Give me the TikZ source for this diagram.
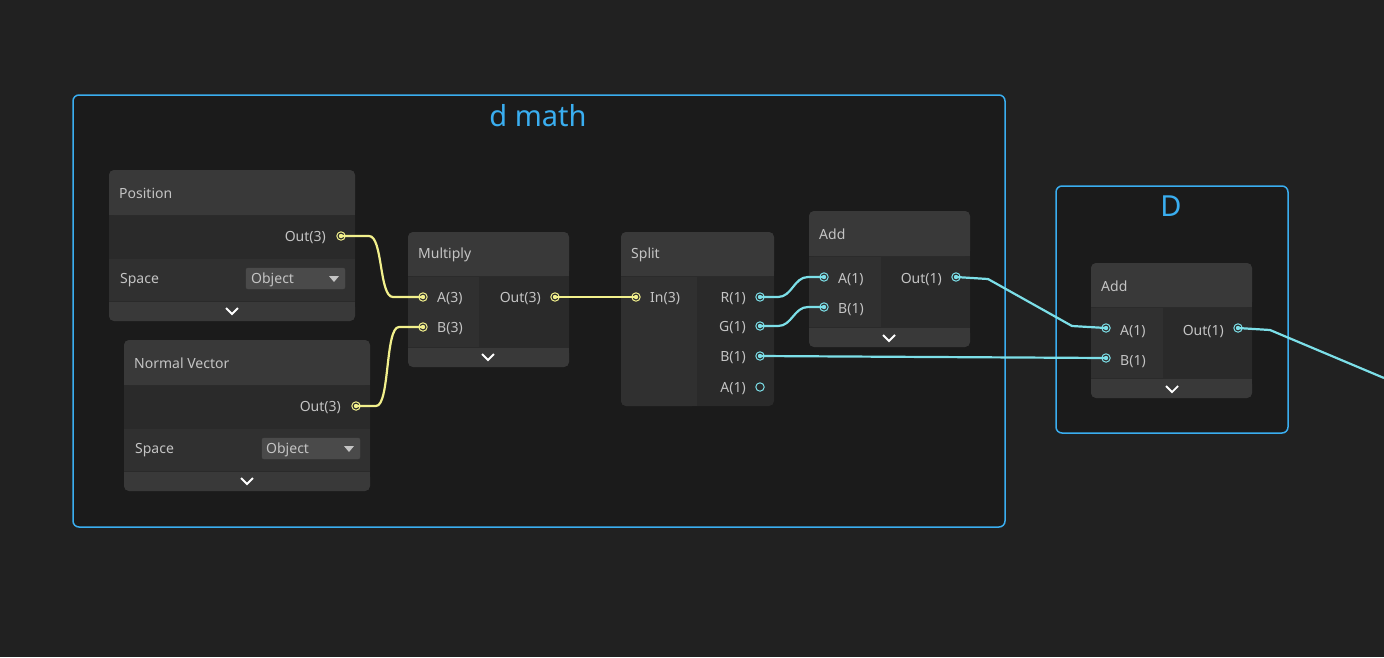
\documentclass[tikz,border=0pt]{standalone}
\usepackage{fontspec}
\setmainfont{Noto Sans}
\usetikzlibrary{calc}
\definecolor{bg}{HTML}{212121}
\definecolor{grp}{HTML}{1B1B1B}
\definecolor{grpline}{HTML}{3AAEF0}
\definecolor{hdr}{HTML}{393939}
\definecolor{bodyA}{HTML}{303030}
\definecolor{bodyB}{HTML}{2A2A2A}
\definecolor{txt}{HTML}{C4C4C4}
\definecolor{yel}{HTML}{F2F08C}
\definecolor{cya}{HTML}{7CDFE8}
\definecolor{dd}{HTML}{4A4A4A}
\tikzset{
 x=1pt,y=-1pt,
 lbl/.style={text=txt,font=\fontsize{14}{16}\selectfont,inner sep=0pt},
 ttl/.style={text=grpline,font=\fontsize{29}{32}\selectfont,inner sep=0pt},
 yw/.style={draw=yel,line width=2.2pt},
 cw/.style={draw=cya,line width=2.2pt},
}
\newcommand{\portY}[1]{\draw[yel,line width=1pt] (#1) circle (4.2); \fill[yel] (#1) circle (2.2);}
\newcommand{\portC}[1]{\draw[cya,line width=1pt] (#1) circle (4.2); \fill[cya] (#1) circle (2.2);}
\newcommand{\chev}[1]{\draw[white,line width=1.8pt] ($(#1)+(-6,-3)$) -- ($(#1)+(0,3)$) -- ($(#1)+(6,-3)$);}
\begin{document}
\begin{tikzpicture}
\fill[bg] (0,0) rectangle (1384,657);
\useasboundingbox (0,0) rectangle (1384,657);
% groups
\draw[grpline,fill=grp,line width=1.5pt,rounded corners=6] (73,95) rectangle (1005,527);
\node[ttl] (t1) at (538,116) {d math};
\draw[grpline,fill=grp,line width=1.5pt,rounded corners=6] (1056,186) rectangle (1288,433);
\node[ttl] (t2) at (1171,206) {D};
% Position
\fill[bodyB,rounded corners=5] (109,170) rectangle (355,321);
\fill[hdr,rounded corners=5] (109,170) rectangle (355,215);
\fill[hdr] (109,200) rectangle (355,215);
\fill[bodyB] (109,216) rectangle (355,258);
\fill[bodyA] (109,259) rectangle (355,301);
\fill[hdr,rounded corners=5] (109,302) rectangle (355,321);
\fill[hdr] (109,302) rectangle (355,310);
\node[lbl,anchor=west] (posT) at (119,193) {Position};
\node[lbl,anchor=east] (posO) at (326,238) {Out(3)};
\coordinate (pP) at (341,236);
\node[lbl,anchor=west] (posS) at (120,280) {Space};
\draw[dd,fill=dd,rounded corners=2] (246,268) rectangle (345,289);
\node[lbl,anchor=west] (posD) at (251,280) {Object};
\fill[txt] (329,276) -- (339,276) -- (334,282) -- cycle;
\chev{232,311}
% Normal Vector
\fill[bodyB,rounded corners=5] (124,340) rectangle (370,491);
\fill[hdr,rounded corners=5] (124,340) rectangle (370,385);
\fill[hdr] (124,370) rectangle (370,385);
\fill[bodyB] (124,386) rectangle (370,428);
\fill[bodyA] (124,429) rectangle (370,471);
\fill[hdr,rounded corners=5] (124,472) rectangle (370,491);
\fill[hdr] (124,472) rectangle (370,480);
\node[lbl,anchor=west] (nvT) at (134,363) {Normal Vector};
\node[lbl,anchor=east] (nvO) at (341,408) {Out(3)};
\coordinate (pN) at (356,406);
\node[lbl,anchor=west] (nvS) at (135,450) {Space};
\draw[dd,fill=dd,rounded corners=2] (262,438) rectangle (360,459);
\node[lbl,anchor=west] (nvD) at (266,450) {Object};
\fill[txt] (344,446) -- (354,446) -- (349,452) -- cycle;
\chev{247,481}
% Multiply
\fill[bodyB,rounded corners=5] (408,232) rectangle (569,367);
\fill[hdr,rounded corners=5] (408,232) rectangle (569,276);
\fill[hdr] (408,260) rectangle (569,276);
\fill[bodyA] (408,277) rectangle (479,347);
\fill[hdr,rounded corners=5] (408,348) rectangle (569,367);
\fill[hdr] (408,348) rectangle (569,356);
\node[lbl,anchor=west] (mT) at (418,255) {Multiply};
\node[lbl,anchor=west] (mA) at (437,299) {A(3)};
\node[lbl,anchor=west] (mB) at (437,329) {B(3)};
\node[lbl,anchor=east] (mO) at (541,299) {Out(3)};
\coordinate (mAp) at (423,297); \coordinate (mBp) at (423,327); \coordinate (mOp) at (555,297);
\chev{488,357}
% Split
\fill[bodyB,rounded corners=5] (621,232) rectangle (774,406);
\fill[hdr,rounded corners=5] (621,232) rectangle (774,276);
\fill[hdr] (621,260) rectangle (774,276);
\fill[bodyA,rounded corners=5] (621,277) rectangle (697,406);
\fill[bodyA] (640,277) rectangle (697,406);
\fill[bodyA] (621,277) rectangle (697,390);
\node[lbl,anchor=west] (sT) at (631,255) {Split};
\node[lbl,anchor=west] (sI) at (650,299) {In(3)};
\node[lbl,anchor=east] (sR) at (746,299) {R(1)};
\node[lbl,anchor=east] (sG) at (746,328) {G(1)};
\node[lbl,anchor=east] (sB) at (746,358) {B(1)};
\node[lbl,anchor=east] (sA) at (746,389) {A(1)};
\coordinate (sIp) at (636,297); \coordinate (sRp) at (760,297); \coordinate (sGp) at (760,326);
\coordinate (sBp) at (760,356); \coordinate (sAp) at (760,387);
% Add1
\fill[bodyB,rounded corners=5] (809,211) rectangle (970,347);
\fill[hdr,rounded corners=5] (809,211) rectangle (970,256);
\fill[hdr] (809,240) rectangle (970,256);
\fill[bodyA] (809,257) rectangle (881,327);
\fill[hdr,rounded corners=5] (809,328) rectangle (970,347);
\fill[hdr] (809,328) rectangle (970,336);
\node[lbl,anchor=west] (a1T) at (819,234) {Add};
\node[lbl,anchor=west] (a1A) at (838,280) {A(1)};
\node[lbl,anchor=west] (a1B) at (838,310) {B(1)};
\node[lbl,anchor=east] (a1O) at (942,280) {Out(1)};
\coordinate (a1Ap) at (824,277); \coordinate (a1Bp) at (824,307); \coordinate (a1Op) at (956,277);
\chev{889,338}
% Add2
\fill[bodyB,rounded corners=5] (1091,263) rectangle (1252,398);
\fill[hdr,rounded corners=5] (1091,263) rectangle (1252,307);
\fill[hdr] (1091,292) rectangle (1252,307);
\fill[bodyA] (1091,308) rectangle (1163,378);
\fill[hdr,rounded corners=5] (1091,379) rectangle (1252,398);
\fill[hdr] (1091,379) rectangle (1252,387);
\node[lbl,anchor=west] (a2T) at (1101,286) {Add};
\node[lbl,anchor=west] (a2A) at (1120,332) {A(1)};
\node[lbl,anchor=west] (a2B) at (1120,362) {B(1)};
\node[lbl,anchor=east] (a2O) at (1224,332) {Out(1)};
\coordinate (a2Ap) at (1106,328); \coordinate (a2Bp) at (1106,358); \coordinate (a2Op) at (1238,328);
\chev{1172,389}
\coordinate (rEnd) at (1384,378);
% wires
\draw[yw] (pP) -- ++(28,0) .. controls +(14,0) and +(-14,0) .. ($(mAp)+(-30,0)$) -- (mAp);
\draw[yw] (pN) -- ++(20,0) .. controls +(14,0) and +(-14,0) .. ($(mBp)+(-24,0)$) -- (mBp);
\draw[yw] (mOp) -- (sIp);
\draw[cw] (sRp) -- ++(18,0) .. controls +(14,0) and +(-14,0) .. ($(a1Ap)+(-16,0)$) -- (a1Ap);
\draw[cw] (sGp) -- ++(18,0) .. controls +(14,0) and +(-14,0) .. ($(a1Bp)+(-16,0)$) -- (a1Bp);
\draw[cw] (sBp) -- (a2Bp);
\draw[cw] (a1Op) -- ++(32,2) -- ($(a2Ap)+(-34,-2)$) -- (a2Ap);
\draw[cw] (a2Op) -- ++(32,2) -- (rEnd);
% ports
\portY{pP} \portY{pN} \portY{mAp} \portY{mBp} \portY{mOp} \portY{sIp}
\portC{sRp} \portC{sGp} \portC{sBp} \draw[cya,line width=1pt] (sAp) circle (4.2);
\portC{a1Ap} \portC{a1Bp} \portC{a1Op} \portC{a2Ap} \portC{a2Bp} \portC{a2Op}
\end{tikzpicture}
\end{document}
